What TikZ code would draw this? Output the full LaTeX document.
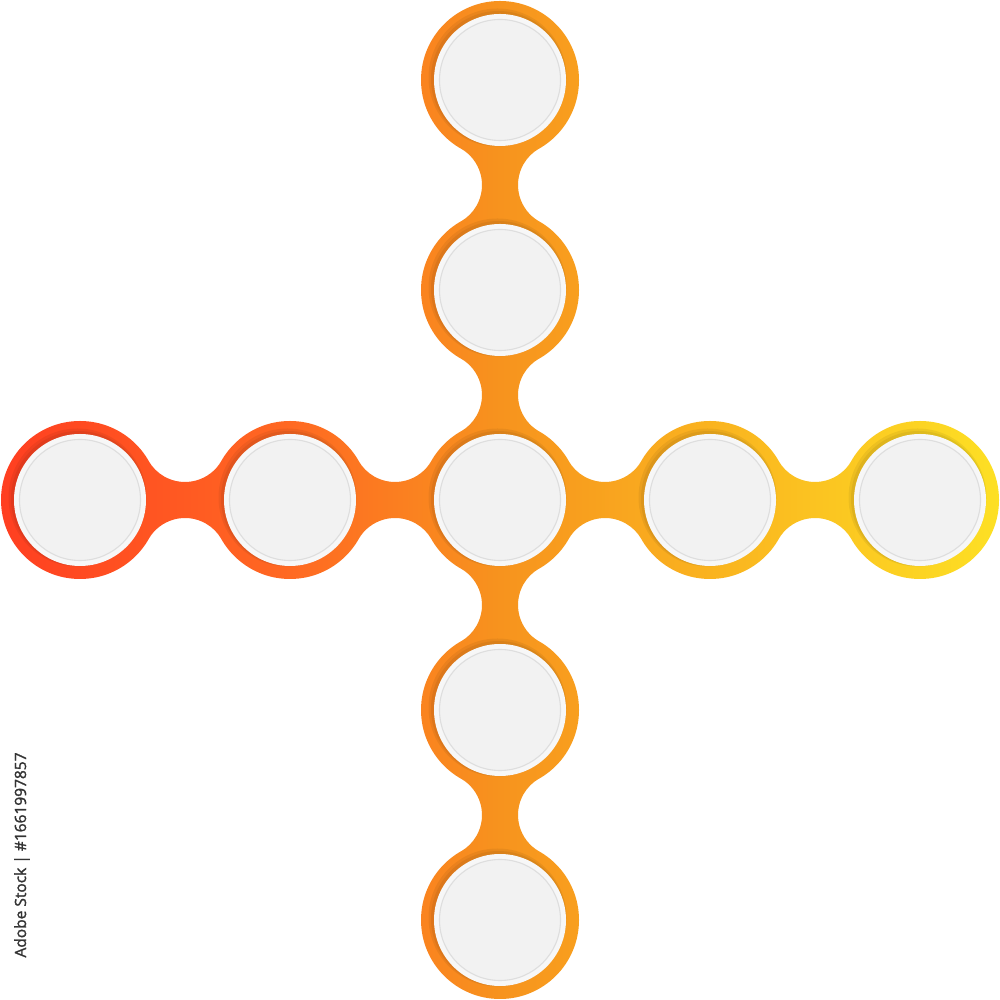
\documentclass[tikz,border=0pt]{standalone}
\usepackage{fontspec}
\newfontfamily\wmfont[FakeBold=1.6]{Open Sans}
\definecolor{cA}{HTML}{FF3F21}
\definecolor{cB}{HTML}{FF6922}
\definecolor{cC}{HTML}{F7931E}
\definecolor{cD}{HTML}{FAB31F}
\definecolor{cE}{HTML}{FDE024}
\definecolor{discrim}{HTML}{F7F7F7}
\definecolor{discgray}{HTML}{F2F2F2}
\definecolor{ringgray}{HTML}{DEDEDE}
\definecolor{wmgray}{HTML}{333333}
\pgfdeclarehorizontalshading{crossshade}{100bp}{color(0bp)=(cA); color(25bp)=(cA); color(39.5bp)=(cB); color(50bp)=(cC); color(60.5bp)=(cD); color(75bp)=(cE); color(100bp)=(cE)}
\begin{document}
\begin{tikzpicture}[x=1pt,y=1pt,
  disc/.style={circle, minimum size=132pt, inner sep=0pt, fill=discrim},
  ringline/.style={draw=ringgray, line width=1.1pt, fill=discgray},
  shadowring/.style={fill=black, opacity=0.06},
  wmtext/.style={rotate=90, text=wmgray, font=\wmfont\fontsize{15.5}{18}\selectfont}]
\useasboundingbox (0,0) rectangle (1000,1000);
\fill[white] (0,0) rectangle (1000,1000);
% orange cross body
\shade[shading=crossshade]
  foreach \x in {80,290,500,710,920} { (\x,500) circle[radius=79] }
  foreach \y in {80,290,710,920} { (500,\y) circle[radius=79] }
  foreach \x in {80,290,500,710} { (\x+68.55,460.83) arc[start angle=150.26,end angle=29.74,radius=42] -- (\x+141.45,539.17) arc[start angle=-29.74,end angle=-150.26,radius=42] -- cycle }
  foreach \y in {920,710,500,290} { (539.17,\y-141.45) arc[start angle=240.26,end angle=119.74,radius=42] -- (460.83,\y-68.55) arc[start angle=60.26,end angle=-60.26,radius=42] -- cycle };
% gray discs
\foreach \n/\px/\py in {a/80/500, b/290/500, c/500/500, d/710/500, e/920/500, f/500/920, g/500/710, h/500/290, i/500/80} {
  \fill[shadowring] (\px-2.5,\py+2.5) circle[radius=69];
  \fill[shadowring] (\px-1.5,\py+1.5) circle[radius=67.5];
  \node[disc] (\n) at (\px,\py) {};
  \path[ringline] (\n.center) circle[radius=60.5];
}
\node[wmtext] (wmark) at (22,145) {Adobe Stock | \#1661997857};
\end{tikzpicture}
\end{document}
